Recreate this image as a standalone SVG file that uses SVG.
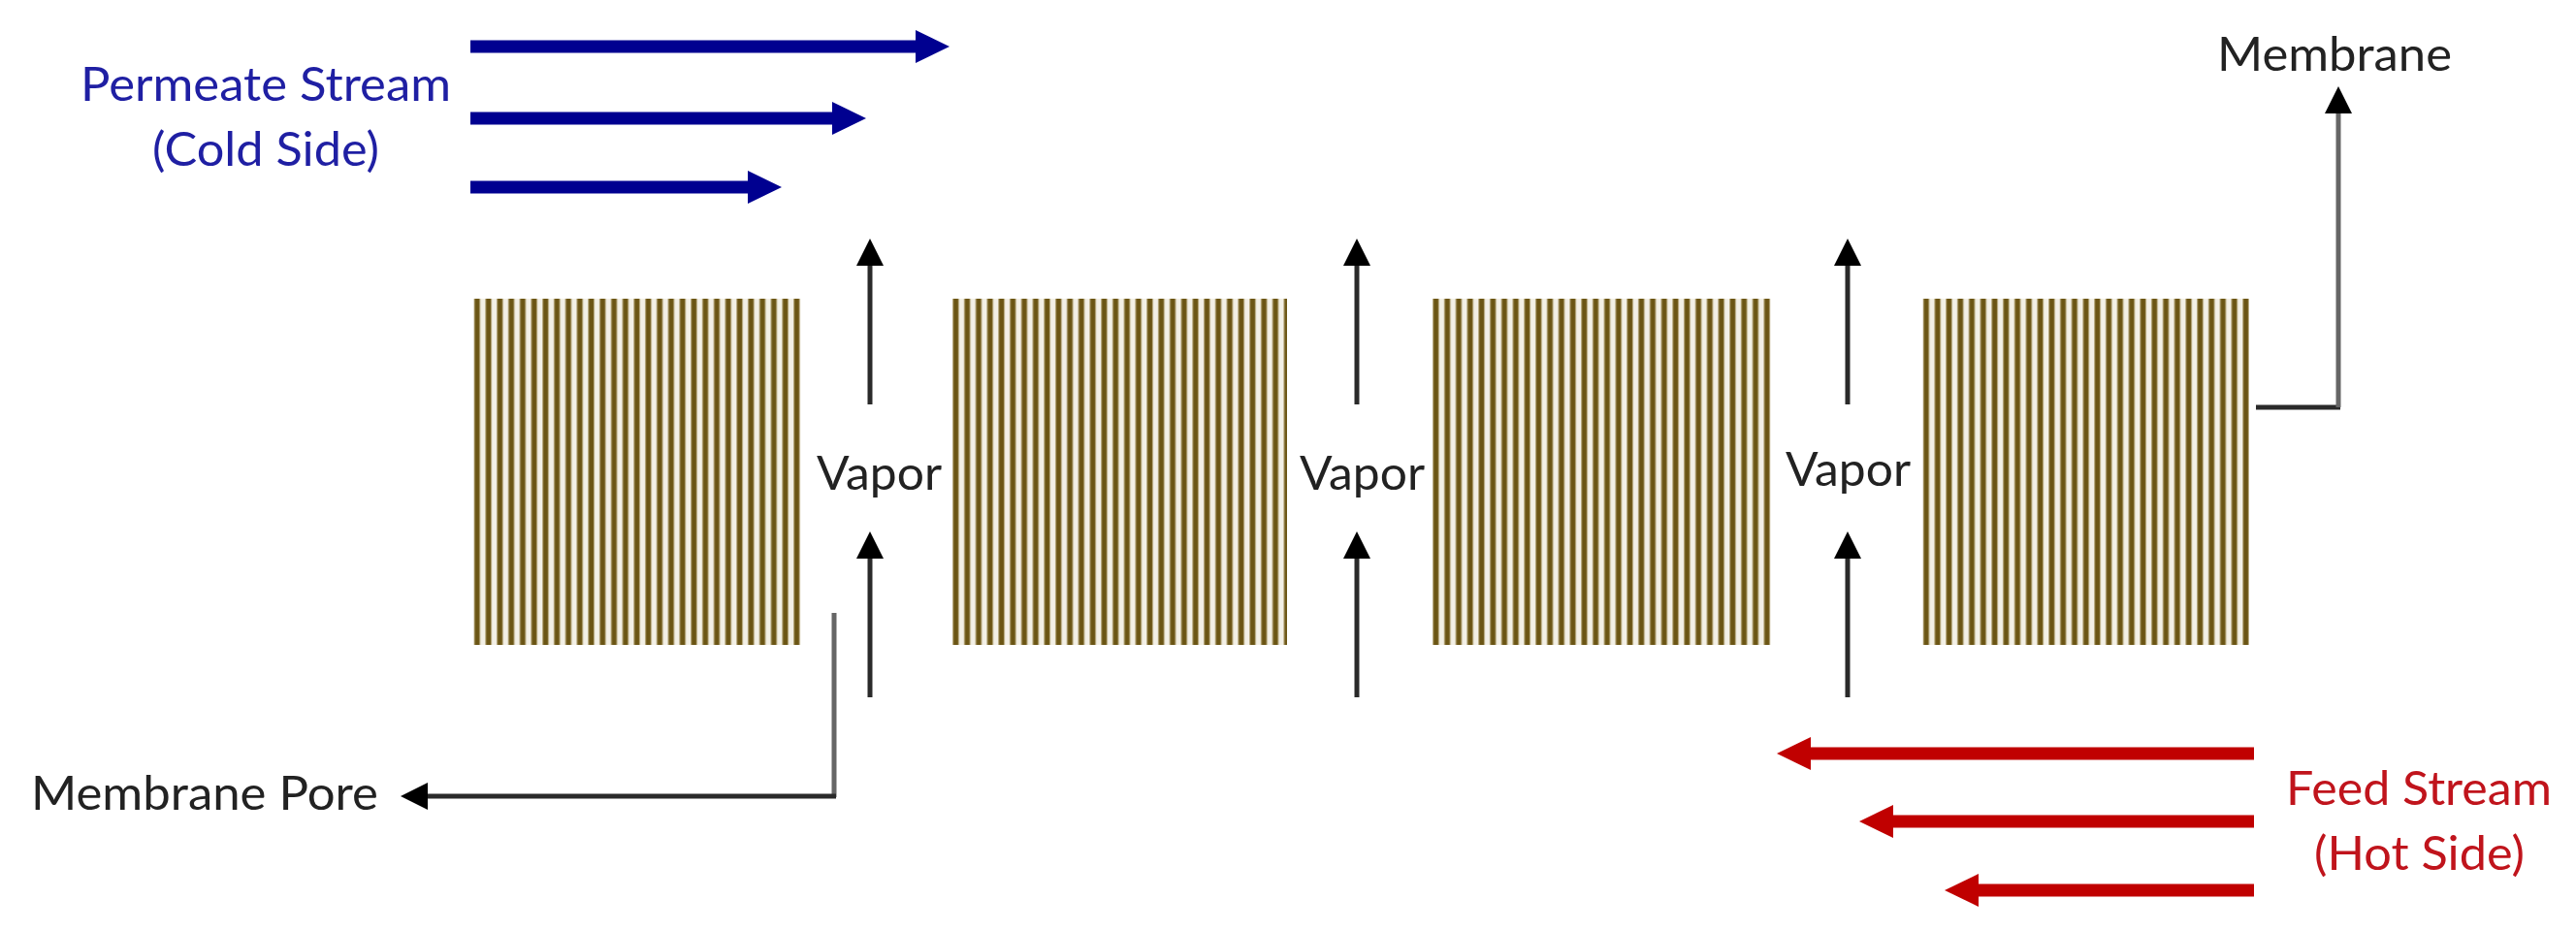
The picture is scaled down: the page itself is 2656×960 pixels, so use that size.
<svg xmlns="http://www.w3.org/2000/svg" width="2656" height="960" viewBox="0 0 2656 960">
<style>
text{font-family:Lato,"Open Sans","Liberation Sans",sans-serif;font-size:49px}
.k{fill:#222}.b{fill:#1f1fa3}.r{fill:#c0141c}
.thin{fill:none;stroke:#2a2a2a;stroke-width:5}
.gr{fill:none;stroke:#666;stroke-width:5}
.blue{stroke:#000090;stroke-width:13}
.red{stroke:#c00000;stroke-width:13}
.blk{fill:url(#st)}
</style>
<defs>
<pattern id="st" width="11.77" height="10" patternUnits="userSpaceOnUse"><rect width="11.77" height="10" fill="#f3f0e6"/><rect width="7" height="10" fill="#b7a97f"/><rect x="1.2" width="4.6" height="10" fill="#6b5514"/></pattern>
<marker id="ah" markerUnits="userSpaceOnUse" markerWidth="30" markerHeight="30" refX="1" refY="14" orient="auto"><path d="M0 0L28 14L0 28Z" fill="#000"/></marker>
<marker id="bh" markerUnits="userSpaceOnUse" markerWidth="36" markerHeight="36" refX="1" refY="17" orient="auto"><path d="M0 0L35 17L0 34Z" fill="#000090"/></marker>
<marker id="rh" markerUnits="userSpaceOnUse" markerWidth="36" markerHeight="36" refX="1" refY="17" orient="auto"><path d="M0 0L35 17L0 34Z" fill="#c00000"/></marker>
</defs>
<rect width="2656" height="960" fill="#fff"/>
<g id="membrane-block-1" transform="translate(488.4 308)"><rect class="blk" width="337" height="357"/></g>
<g id="membrane-block-2" transform="translate(982 308)"><rect class="blk" width="345" height="357"/></g>
<g id="membrane-block-3" transform="translate(1477 308)"><rect class="blk" width="348.5" height="357"/></g>
<g id="membrane-block-4" transform="translate(1982.5 308)"><rect class="blk" width="336.5" height="357"/></g>
<g id="connectors">
<path class="blue" d="M485 48H945" marker-end="url(#bh)"/>
<path class="blue" d="M485 122H859" marker-end="url(#bh)"/>
<path class="blue" d="M485 193H772" marker-end="url(#bh)"/>
<path class="red" d="M2324 777H1866" marker-end="url(#rh)"/>
<path class="red" d="M2324 847H1951" marker-end="url(#rh)"/>
<path class="red" d="M2324 918H2039" marker-end="url(#rh)"/>
<path class="thin" d="M897 417V273" marker-end="url(#ah)"/>
<path class="thin" d="M897 719V575" marker-end="url(#ah)"/>
<path class="thin" d="M1399 417V273" marker-end="url(#ah)"/>
<path class="thin" d="M1399 719V575" marker-end="url(#ah)"/>
<path class="thin" d="M1905 417V273" marker-end="url(#ah)"/>
<path class="thin" d="M1905 719V575" marker-end="url(#ah)"/>
<path class="gr" d="M860 632V822"/>
<path class="thin" d="M862 821H440" marker-end="url(#ah)"/>
<path class="thin" d="M2326 420H2413"/>
<path class="gr" d="M2411 420V116" marker-end="url(#ah)"/>
</g>
<g id="label-permeate"><text class="b" x="83" y="104" textLength="382" lengthAdjust="spacingAndGlyphs">Permeate Stream</text><text class="b" x="157" y="171" textLength="234" lengthAdjust="spacingAndGlyphs">(Cold Side)</text></g>
<g id="label-feed"><text class="r" x="2357" y="830" textLength="274" lengthAdjust="spacingAndGlyphs">Feed Stream</text><text class="r" x="2386" y="897" textLength="217" lengthAdjust="spacingAndGlyphs">(Hot Side)</text></g>
<g id="label-membrane"><text class="k" x="2286" y="73" textLength="242" lengthAdjust="spacingAndGlyphs">Membrane</text></g>
<g id="label-pore"><text class="k" x="32" y="835" textLength="358" lengthAdjust="spacingAndGlyphs">Membrane Pore</text></g>
<g id="label-vapor-1"><text class="k" x="842" y="505" textLength="129" lengthAdjust="spacingAndGlyphs">Vapor</text></g>
<g id="label-vapor-2"><text class="k" x="1340" y="505" textLength="129" lengthAdjust="spacingAndGlyphs">Vapor</text></g>
<g id="label-vapor-3"><text class="k" x="1841" y="501" textLength="129" lengthAdjust="spacingAndGlyphs">Vapor</text></g>
</svg>
